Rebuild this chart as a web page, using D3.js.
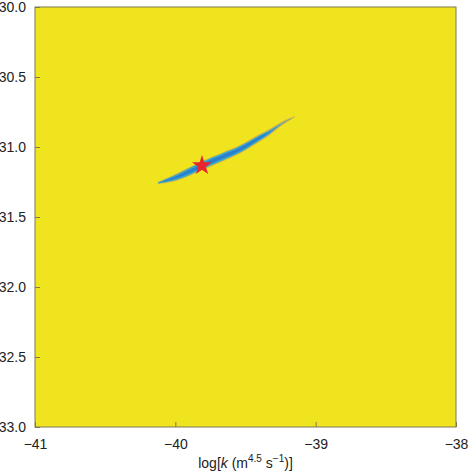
<!DOCTYPE html>
<html><head><meta charset="utf-8">
<script src="https://cdn.jsdelivr.net/npm/d3@7"></script>
<style>body{margin:0;background:#fff}svg{display:block}text{font-family:"Liberation Sans",Arial,sans-serif}</style>
</head><body>
<script>
// Axis ticks
const xTicks = [-41, -40, -39, -38];
const yTicks = [30.0, 30.5, 31.0, 31.5, 32.0, 32.5, 33.0];
// Low-misfit valley (ridge centreline and half-widths for three misfit levels)
const ridgeLogK = [-40.124, -39.988, -39.812, -39.660, -39.539, -39.418, -39.325, -39.240, -39.147];
const ridgeY    = [31.257, 31.214, 31.134, 31.069, 31.016, 30.946, 30.891, 30.832, 30.782];
const outerHW   = [0.008, 0.027, 0.032, 0.032, 0.030, 0.028, 0.023, 0.015, 0.004];
const midHW     = [0.004, 0.020, 0.026, 0.026, 0.024, 0.020, 0.012, 0.004, 0.000];
const coreHW    = [0.000, 0.009, 0.014, 0.014, 0.012, 0.010, 0.003, 0.000, 0.000];
const levelColors = ["#d9b24a", "#37abc6", "#2a80cf"];
// Best-fit model
const starLogK = -39.81, starY = 31.133;

const W = 474, H = 474;
const m = {l: 35, r: 18, t: 7, b: 47};
const svg = d3.select("body").append("svg").attr("width", W).attr("height", H);
const x = d3.scaleLinear().domain([-41, -38]).range([m.l, W - m.r]);
const y = d3.scaleLinear().domain([30, 33]).range([m.t, H - m.b]);

svg.append("defs").append("filter").attr("id", "blur")
  .append("feGaussianBlur").attr("stdDeviation", 0.7);

svg.append("rect").attr("x", x(-41)).attr("y", y(30))
  .attr("width", x(-38) - x(-41)).attr("height", y(33) - y(30))
  .attr("fill", "#f0e41f");

const pts = ridgeLogK.map((k, i) => ({k, y: ridgeY[i], hw: [outerHW[i], midHW[i], coreHW[i]]}));
const g = svg.append("g").attr("filter", "url(#blur)");
[0, 1, 2].forEach(l => {
  const area = d3.area().curve(d3.curveCatmullRom)
    .x(d => x(d.k)).y0(d => y(d.y - d.hw[l])).y1(d => y(d.y + d.hw[l]));
  g.append("path").datum(pts).attr("d", area).attr("fill", levelColors[l]);
});

svg.append("path")
  .attr("d", d3.symbol().type(d3.symbolStar).size(124)())
  .attr("transform", `translate(${x(starLogK)},${y(starY)})`)
  .attr("fill", "#e8262b");

// frame
svg.append("rect").attr("x", x(-41)).attr("y", y(30))
  .attr("width", x(-38) - x(-41)).attr("height", y(33) - y(30))
  .attr("fill", "none").attr("stroke", "#7d7a55").attr("stroke-width", 1);

const xa = svg.append("g").attr("transform", `translate(0,${y(33)})`)
  .call(d3.axisBottom(x).tickValues(xTicks).tickSizeInner(-5).tickSizeOuter(0).tickPadding(12)
    .tickFormat(d => d3.format("d")(d).replace("-", "\u2212")));
const ya = svg.append("g").attr("transform", `translate(${x(-41)},0)`)
  .call(d3.axisLeft(y).tickValues(yTicks).tickSizeInner(-5).tickSizeOuter(0).tickPadding(9)
    .tickFormat(d3.format(".1f")));
[xa, ya].forEach(a => {
  a.select(".domain").remove();
  a.selectAll("line").attr("stroke", "#7d7a55");
  a.selectAll("text").attr("font-size", 14).attr("fill", "#222");
});

const t = svg.append("text").attr("x", (x(-41) + x(-38)) / 2).attr("y", 468)
  .attr("text-anchor", "middle").attr("font-size", 14).attr("fill", "#222");
t.append("tspan").text("log[");
t.append("tspan").attr("font-style", "italic").text("k");
t.append("tspan").text(" (m");
t.append("tspan").attr("font-size", 10).attr("dy", -6).text("4.5");
t.append("tspan").attr("dy", 6).text(" s");
t.append("tspan").attr("font-size", 10).attr("dy", -6).text("\u22121");
t.append("tspan").attr("dy", 6).text(")]");
</script>
</body></html>
